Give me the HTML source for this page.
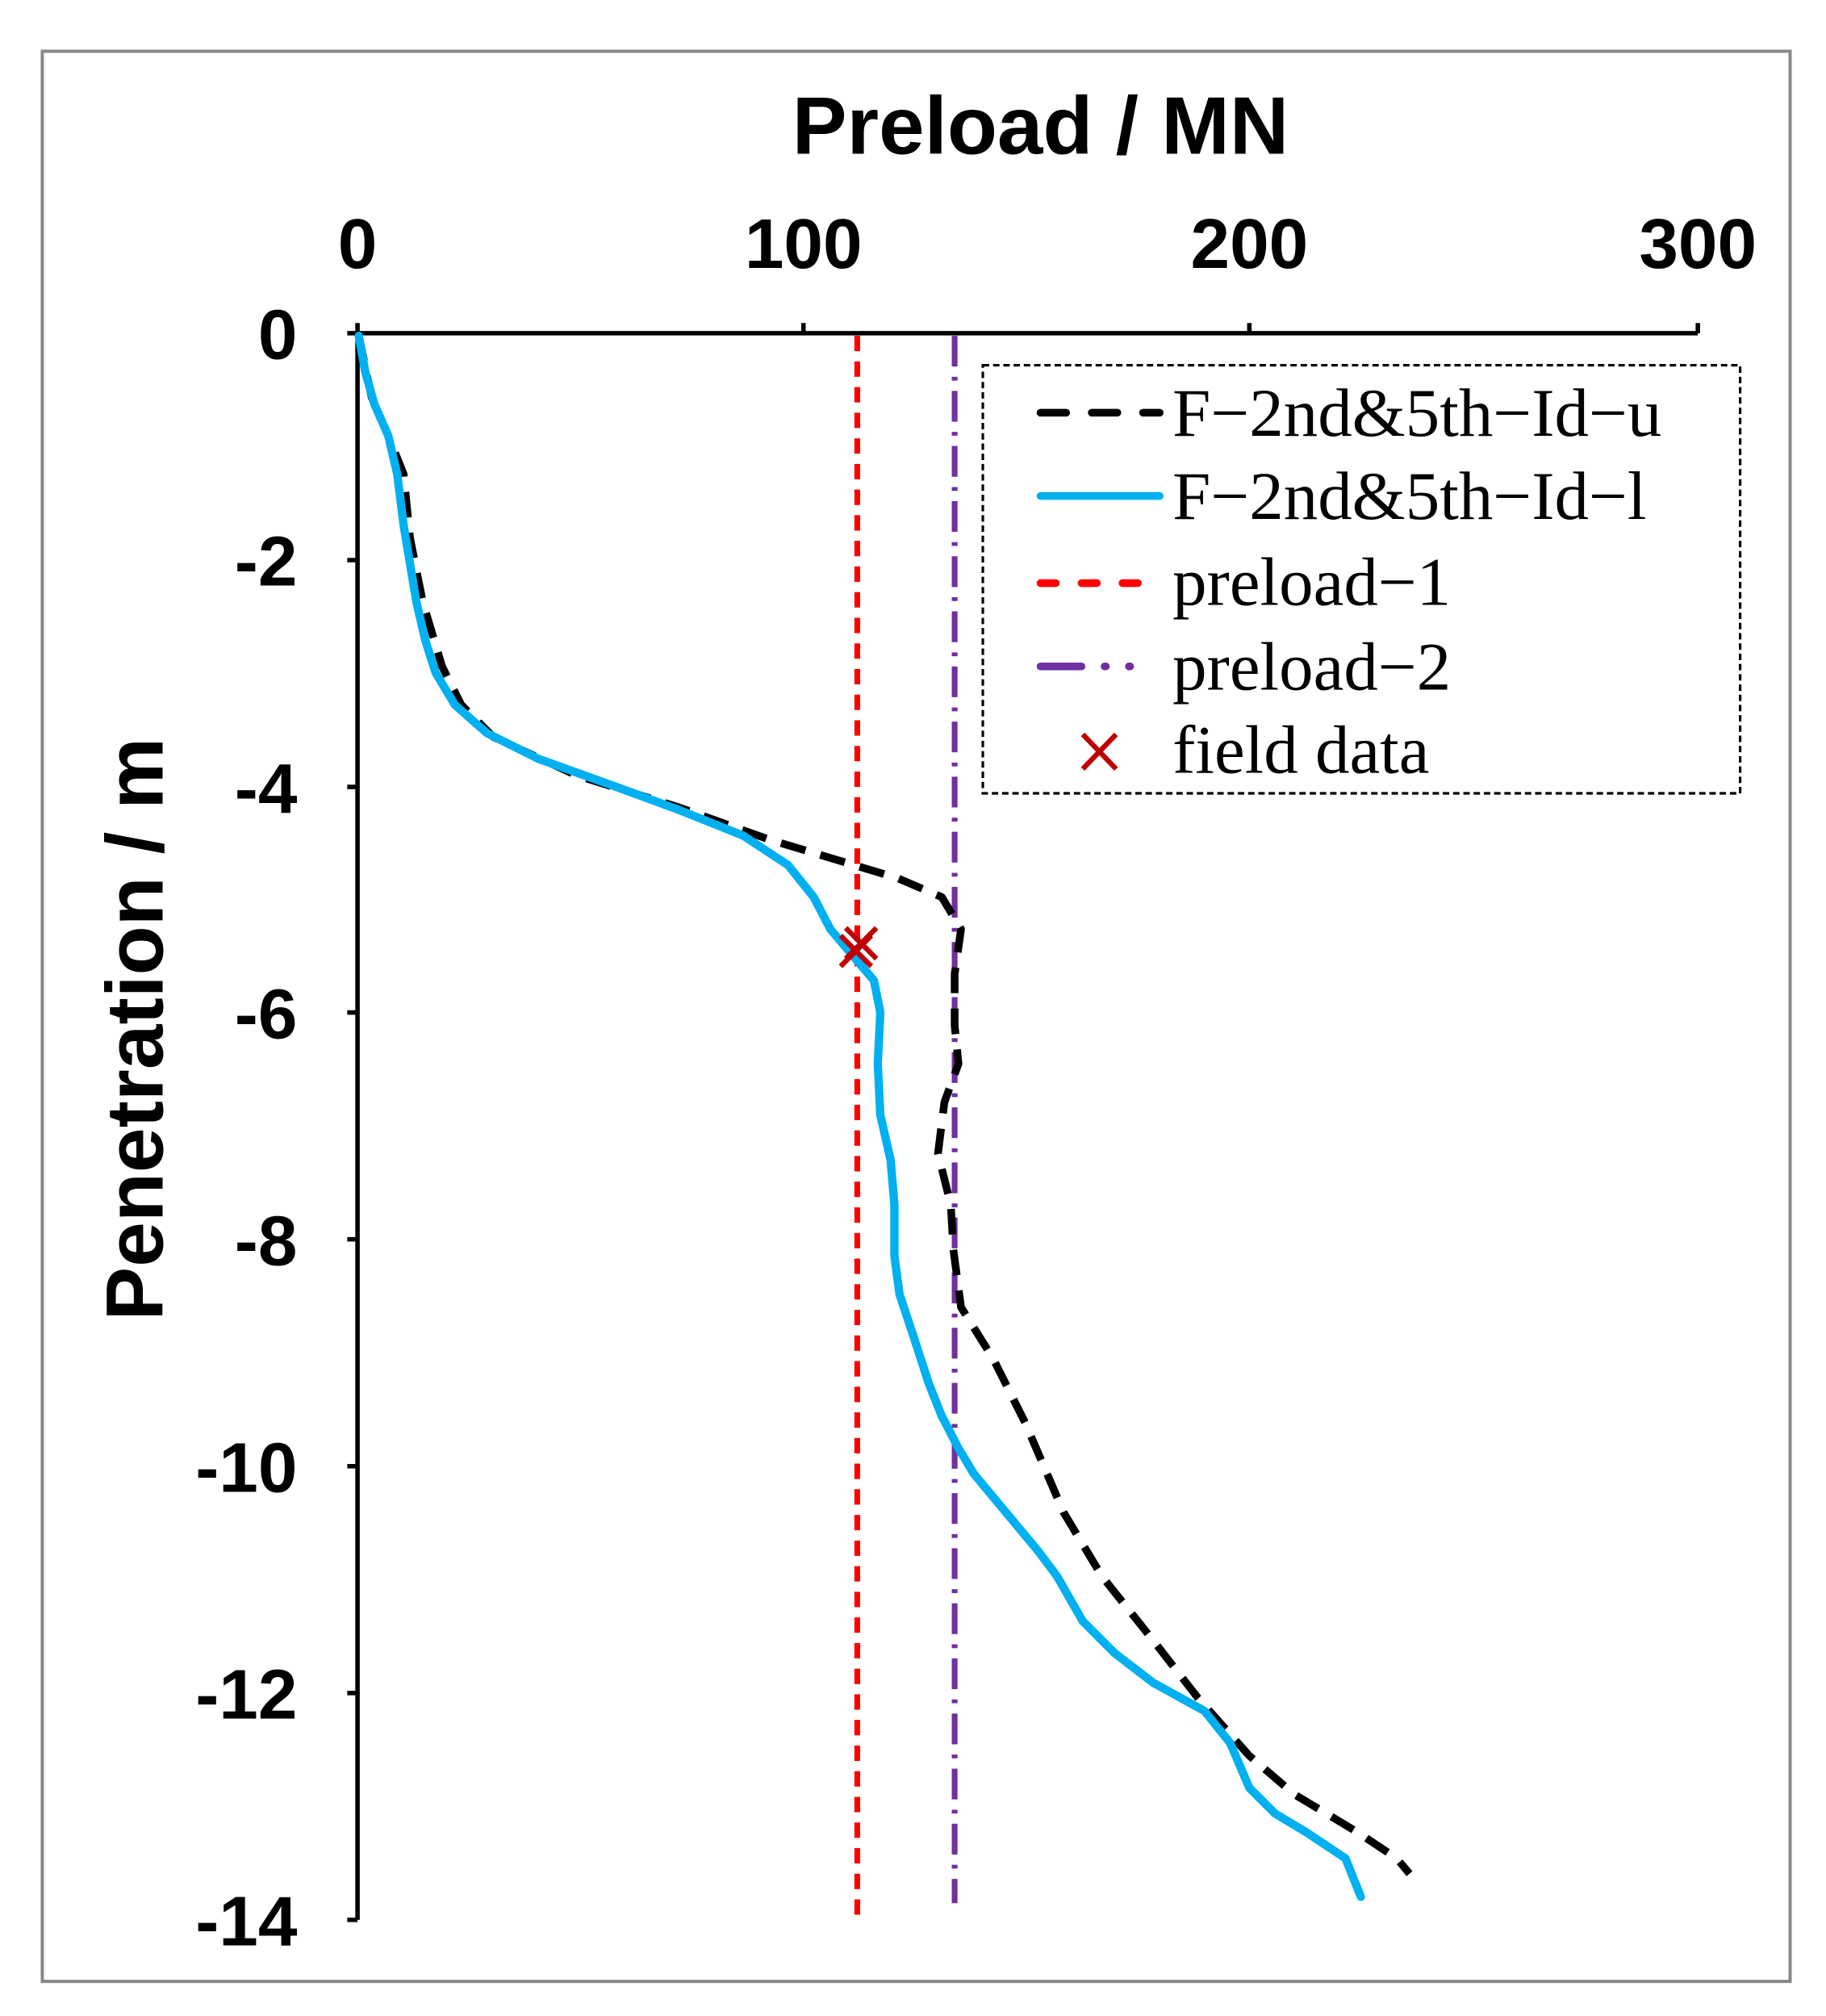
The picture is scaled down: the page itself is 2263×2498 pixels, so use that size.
<!DOCTYPE html>
<html><head><meta charset="utf-8"><style>
html,body{margin:0;padding:0;background:#fff;}
svg{display:block;}
</style></head><body>
<svg width="2263" height="2498" viewBox="0 0 1425 1573" xmlns="http://www.w3.org/2000/svg">
<rect x="0" y="0" width="1425" height="1573" fill="#fff"/>
<rect x="33" y="40" width="1364" height="1506" fill="none" stroke="#888" stroke-width="2.5"/>
<text x="812" y="120" font-family="Liberation Sans, Arial, sans-serif" font-weight="bold" font-size="64" text-anchor="middle">Preload / MN</text>
<g font-family="Liberation Sans, Arial, sans-serif" font-weight="bold" font-size="55" text-anchor="middle">
<text x="279" y="209">0</text><text x="627" y="209">100</text><text x="975" y="209">200</text><text x="1325" y="209">300</text>
</g>
<g font-family="Liberation Sans, Arial, sans-serif" font-weight="bold" font-size="55" text-anchor="end">
<text x="232" y="280">0</text><text x="232" y="457">-2</text><text x="232" y="634">-4</text><text x="232" y="810">-6</text>
<text x="232" y="987">-8</text><text x="232" y="1164">-10</text><text x="232" y="1341">-12</text><text x="232" y="1518">-14</text>
</g>
<text transform="translate(127,803) rotate(-90)" font-family="Liberation Sans, Arial, sans-serif" font-weight="bold" font-size="63" text-anchor="middle">Penetration / m</text>
<g stroke="#000" stroke-width="3.5" fill="none">
<path d="M279 260 H1325 M279 252 V260 M627 252 V260 M975 252 V260 M1325 252 V260"/>
<path d="M279 260 V1498 M271 260 H279 M271 437 H279 M271 614 H279 M271 790 H279 M271 967 H279 M271 1144 H279 M271 1321 H279 M271 1498 H279"/>
</g>
<line x1="669" y1="262" x2="669" y2="1500" stroke="#ff0000" stroke-width="4.5" stroke-dasharray="12 8"/>
<line x1="745" y1="262" x2="745" y2="1485" stroke="#7030a0" stroke-width="4.5" stroke-dasharray="24 8 3 8"/>
<polyline fill="none" stroke="#000" stroke-width="6" stroke-dasharray="20 12" stroke-linejoin="round" points="280,262 290,310 305,345 315,370 320,420 330,470 345,520 360,550 385,575 450,605 530,630 600,655 660,673 700,685 735,700 750,725 745,760 745,800 748,830 737,860 732,900 742,940 744,975 750,1020 775,1060 800,1110 830,1180 860,1230 900,1280 935,1325 975,1370 1010,1400 1060,1430 1090,1450 1100,1462"/>
<polyline fill="none" stroke="#00b0f0" stroke-width="6.5" stroke-linejoin="round" stroke-linecap="round" points="280,262 285,290 292,315 303,340 310,370 315,410 320,440 325,470 332,500 340,525 355,550 380,572 420,592 470,610 530,632 580,652 615,675 635,700 648,725 665,745 682,765 687,790 685,830 687,870 695,905 698,940 698,980 702,1010 712,1040 725,1080 735,1105 748,1130 760,1150 785,1180 810,1210 825,1230 845,1265 870,1290 900,1313 940,1335 960,1360 975,1395 995,1415 1020,1430 1050,1450 1062,1480"/>
<g stroke="#c00000" stroke-width="4">
<path d="M656 730 L680 754 M680 730 L656 754"/>
<path d="M660 724 L684 748 M684 724 L660 748"/>
</g>
<rect x="767" y="285" width="591" height="334" fill="none" stroke="#000" stroke-width="2" stroke-dasharray="5 3"/>
<g stroke-linecap="round">
<line x1="812" y1="322" x2="905" y2="322" stroke="#000" stroke-width="6" stroke-dasharray="20 20"/>
<line x1="812" y1="387" x2="905" y2="387" stroke="#00b0f0" stroke-width="6"/>
<line x1="812" y1="455" x2="905" y2="455" stroke="#ff0000" stroke-width="6" stroke-dasharray="12 20"/>
<line x1="812" y1="520" x2="905" y2="520" stroke="#7030a0" stroke-width="6" stroke-dasharray="32 18 1 18 1 200"/>
</g>
<path d="M845 573 L871 600 M871 573 L845 600" stroke="#c00000" stroke-width="4"/>
<g font-family="Liberation Serif, 'Times New Roman', serif" font-size="53.5" fill="#000">
<text x="915" y="340">F−2nd&amp;5th−Id−u</text>
<text x="915" y="405">F−2nd&amp;5th−Id−l</text>
<text x="915" y="472">preload−1</text>
<text x="915" y="538">preload−2</text>
<text x="915" y="603">field data</text>
</g>
</svg>
</body></html>
